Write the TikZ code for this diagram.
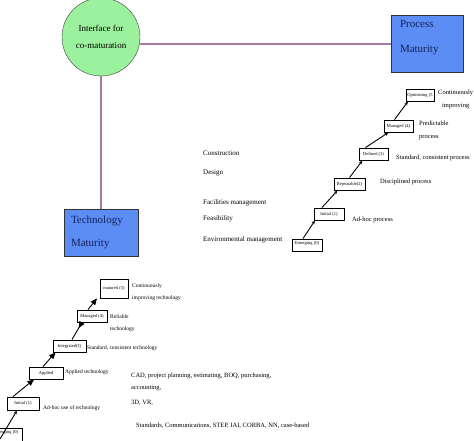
\documentclass[tikz,border=0pt]{standalone}
\usepackage{fontspec}
\setmainfont{Liberation Serif}
\usetikzlibrary{arrows.meta}

\definecolor{comatgreen}{HTML}{9BF19D}
\definecolor{maturblue}{HTML}{5C8DF4}
\definecolor{linkpurple}{HTML}{A97A9F}
\definecolor{maturtext}{HTML}{14215A}

\begin{document}
\begin{tikzpicture}[
    x=1pt, y=-1pt,
    lvlbox/.style={
        draw,
        fill=white,
        line width=0.9pt,
        inner sep=0pt,
        font=\fontsize{4.5}{5}\selectfont
    },
    bigbox/.style={
        draw=black!80,
        fill=maturblue,
        align=left,
        text=maturtext
    },
    plbl/.style={anchor=west, align=left, inner sep=0pt,
        font=\fontsize{6.5}{13}\selectfont},
    tlbl/.style={anchor=west, align=left, inner sep=0pt,
        font=\fontsize{5.5}{12}\selectfont},
    area/.style={anchor=west, inner sep=0pt, font=\fontsize{7}{8}\selectfont},
    tool/.style={anchor=west, inner sep=0pt, font=\fontsize{6.5}{8}\selectfont},
    link/.style={draw=linkpurple, line width=1.4pt},
    parr/.style={-{Stealth[length=4pt, width=3.2pt]}, line width=0.9pt},
    tarr/.style={-{Triangle[length=6.5pt, width=5.5pt]}, line width=0.9pt}
]
    \useasboundingbox (0,0) rectangle (474,441);

    % Maturity boxes and the interface
    \node[bigbox, minimum width=72, minimum height=57, text width=54,
        inner xsep=9, text depth=39.5pt, font=\fontsize{11}{25}\selectfont]
        (proc) at (427,44) {Process\\ Maturity};

    \node[bigbox, minimum width=74, minimum height=47, text width=60,
        inner xsep=7, text depth=26.5pt, font=\fontsize{11}{23}\selectfont]
        (tech) at (101,232.5) {Technology\\ Maturity};

    \draw[link] (proc.west) -- (proc.west -| 140,0);
    \draw[link] (tech.north) -- (101,60);

    \node[circle, draw=black!75, fill=comatgreen, minimum size=78,
        align=center, font=\fontsize{9}{17}\selectfont]
        (comat) at (101,37) {Interface for\\ co-maturation};

    % Process staircase
    \node[lvlbox, minimum width=30, minimum height=12, text depth=5pt]
        (pemg) at (307,245) {Emerging (0)};
    \node[lvlbox, minimum width=30, minimum height=12] (pini) at (329,214) {Initial (1)};
    \node[lvlbox, minimum width=31, minimum height=12] (prep) at (349.5,184) {Repeatable(2)};
    \node[lvlbox, minimum width=29, minimum height=12] (pdef) at (373.5,154) {Defined (3)};
    \node[lvlbox, minimum width=29, minimum height=12] (pman) at (398.5,126) {Managed (4)};
    \node[lvlbox, minimum width=28, minimum height=12] (popt) at (420,95) {Optimising (5};

    \draw[parr] ([xshift=-4]pemg.north) -- ([xshift=-14]pini.south);
    \draw[parr] ([xshift=-7]pini.north) -- ([xshift=-12]prep.south);
    \draw[parr] ([xshift=0]prep.north) -- ([xshift=-11]pdef.south);
    \draw[parr] ([xshift=-8]pdef.north) -- ([xshift=-10]pman.south);
    \draw[parr] ([xshift=-4]pman.north) -- ([xshift=-12]popt.south);

    \node[plbl, align=center, anchor=north west] (poptl) at (438,90) {Continuously\\ improving};
    \node[plbl, anchor=north west] (pmanl) at (419,121) {Predictable\\ process};
    \node[plbl] (pdefl) at (396,158) {Standard, consistent process};
    \node[plbl] (prepl) at (380,182) {Disciplined process};
    \node[plbl] (pinil) at (352,220) {Ad-hoc process};

    % Areas
    \node[area] (constr) at (203,153) {Construction};
    \node[area] (design) at (203,173) {Design};
    \node[area] (facil) at (203,203) {Facilities management};
    \node[area] (feas) at (203,219) {Feasibility};
    \node[area] (envir) at (203,240) {Environmental management};

    % Technology staircase
    \node[lvlbox, minimum width=32, minimum height=22, text depth=14pt]
        (temg) at (6,439) {Emerging (0)};
    \node[lvlbox, minimum width=32, minimum height=13] (tini) at (23,403.5) {Initial (1)};
    \node[lvlbox, minimum width=34, minimum height=12] (tapp) at (46,373) {Applied};
    \node[lvlbox, minimum width=33, minimum height=12] (tint) at (69.5,346) {Integrated(3)};
    \node[lvlbox, minimum width=30, minimum height=12] (tman) at (92,316) {Managed (4)};
    \node[lvlbox, minimum width=28, minimum height=19] (tmat) at (114,288.5) {matured (5)};

    \draw[parr] ([xshift=-6]temg.center) -- ([xshift=-6]tini.south);
    \draw[tarr] ([xshift=-10]tini.north) -- ([xshift=-12]tapp.south);
    \draw[tarr] ([xshift=-3]tapp.north) -- ([xshift=-14]tint.south);
    \draw[-{Triangle[length=6.5pt, width=5.5pt, reversed]}, line width=0.9pt]
        ([xshift=2.5]tint.north) -- ([xshift=-10]tman.south);
    \draw[tarr] ([xshift=-4]tman.north) -- ([xshift=-17]tmat.south);

    \node[tlbl, anchor=north west] (tmatl) at (132,283) {Continuously\\ improving technology};
    \node[tlbl, anchor=north west] (tmanl) at (110,314) {Reliable\\ technology};
    \node[tlbl] (tintl) at (87,348) {Standard, consistent technology};
    \node[tlbl] (tappl) at (65,372) {Applied technology};
    \node[tlbl] (tinil) at (43,408) {Ad-hoc use of technology};

    % Tools
    \node[tool] (cad) at (131,376) {CAD, project planning, estimating, BOQ, purchasing,};
    \node[tool] (acc) at (131,388) {accounting,};
    \node[tool] (vr) at (131,403) {3D, VR,};
    \node[tool] (std) at (136,426) {Standards, Communications, STEP, IAI, CORBA, NN, case-based};

\end{tikzpicture}
\end{document}
